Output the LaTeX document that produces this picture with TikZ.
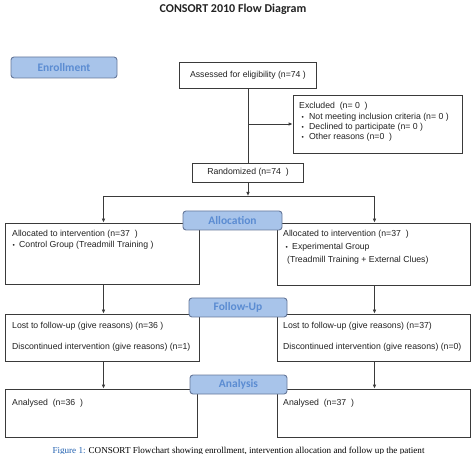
\documentclass[tikz,border=0pt]{standalone}
\usepackage{fontspec}
\setmainfont{Liberation Sans}
\newfontfamily\calfont{Carlito}
\newfontfamily\serfont{Liberation Serif}
\usetikzlibrary{arrows.meta}
\definecolor{lblfill}{HTML}{A8C4EA}
\definecolor{lbldraw}{HTML}{66789A}
\definecolor{lbltext}{HTML}{5B8CD2}
\definecolor{linec}{HTML}{3A3A3A}
\definecolor{txtc}{HTML}{222222}
\definecolor{capblue}{HTML}{1F5FAF}
\begin{document}
\begin{tikzpicture}[x=1pt,y=-1pt,
  flowbox/.style={draw=linec, line width=0.8pt, inner sep=0pt, fill=white, text=txtc, font=\fontsize{8.7}{10}\selectfont},
  stagebox/.style={draw=lbldraw, fill=lblfill, rounded corners=3pt, line width=0.9pt, text=lbltext, inner sep=0pt, font=\calfont\bfseries\fontsize{11.5}{13}\selectfont},
  txt/.style={anchor=base west, inner sep=0pt, text=txtc, font=\fontsize{8.7}{10}\selectfont},
  bul/.style={anchor=base west, inner sep=0pt, text=txtc, font=\fontsize{6.5}{7}\selectfont},
  conn/.style={draw=linec, line width=0.8pt},
  arr/.style={conn, -{Latex[length=4pt,width=3.6pt]}}]
\useasboundingbox (0,0) rectangle (474,454);
\clip (0,0) rectangle (474,454);

\node[anchor=base, inner sep=0pt, text=txtc, font=\calfont\bfseries\fontsize{12}{14}\selectfont] (title) at (233,13) {CONSORT 2010 Flow Diagram};

% boxes
\node[flowbox, minimum width=137pt, minimum height=26pt] (assess) at (248,75) {Assessed for eligibility (n=74 )};
\node[flowbox, minimum width=169pt, minimum height=58pt] (excl) at (377.5,124) {};
\node[flowbox, minimum width=111pt, minimum height=19pt] (rand) at (248,172.5) {Randomized (n=74\ \ )};
\node[flowbox, minimum width=194pt, minimum height=61pt] (allocL) at (102,253.5) {};
\node[flowbox, minimum width=193pt, minimum height=62pt] (allocR) at (373.5,254) {};
\node[flowbox, minimum width=194pt, minimum height=47pt] (fuL) at (102,337.5) {};
\node[flowbox, minimum width=193pt, minimum height=47pt] (fuR) at (373.5,337.5) {};
\node[flowbox, minimum width=192pt, minimum height=48pt] (anL) at (101,413) {};
\node[flowbox, minimum width=193pt, minimum height=48pt] (anR) at (373.5,413) {};

% texts
\node[txt] (exT) at (299,108.7) {Excluded\ \ (n= 0\ \ )};
\node[bul] (exB1) at (301.5,119.3) {\textbullet};
\node[txt] (ex1) at (309,119.3) {Not meeting inclusion criteria (n= 0 )};
\node[bul] (exB2) at (301.5,129.3) {\textbullet};
\node[txt] (ex2) at (309,129.3) {Declined to participate (n= 0 )};
\node[bul] (exB3) at (301.5,139.3) {\textbullet};
\node[txt] (ex3) at (309,139.3) {Other reasons (n=0\ \ )};

\node[txt] (alLT) at (12,236.7) {Allocated to intervention (n=37\ \ )};
\node[bul] (alLB) at (12.5,247.5) {\textbullet};
\node[txt] (alL1) at (19,247.5) {Control Group (Treadmill Training )};

\node[txt] (alRT) at (283,236.7) {Allocated to intervention (n=37\ \ )};
\node[bul] (alRB) at (285.5,249.5) {\textbullet};
\node[txt] (alR1) at (292,249.5) {Experimental Group};
\node[txt] (alR2) at (287,262.5) {(Treadmill Training + External Clues)};

\node[txt] (fuLT) at (12,329) {Lost to follow-up (give reasons) (n=36 )};
\node[txt] (fuL1) at (12,349) {Discontinued intervention (give reasons) (n=1)};
\node[txt] (fuRT) at (283,329) {Lost to follow-up (give reasons) (n=37)};
\node[txt] (fuR1) at (283,349) {Discontinued intervention (give reasons) (n=0)};

\node[txt] (anLT) at (12,405) {Analysed\ \ (n=36\ \ )};
\node[txt] (anRT) at (283,405) {Analysed\ \ (n=37\ \ )};

% connectors
\coordinate (split) at (248,196);
\coordinate (splitL) at (103.5,196);
\coordinate (splitR) at (374.5,196);
\coordinate (exj) at (assess.south |- excl.west);
\draw[conn] (assess.south) -- (rand.north);
\draw[arr] (exj) -- (excl.west);
\draw[arr] (rand.south) -- (split);
\draw[conn] (splitL) -- (splitR);
\draw[arr] (splitL) -- (splitL |- allocL.north);
\draw[arr] (splitR) -- (splitR |- allocR.north);
\draw[arr] (splitL |- allocL.south) -- (splitL |- fuL.north);
\draw[arr] (splitR |- allocR.south) -- (splitR |- fuR.north);
\draw[arr] (splitL |- fuL.south) -- (splitL |- anL.north);
\draw[arr] (splitR |- fuR.south) -- (splitR |- anR.north);

% stage labels
\node[stagebox, minimum width=106pt, minimum height=21pt] (enroll) at (64,67.5) {Enrollment};
\node[stagebox, minimum width=99pt, minimum height=19pt] (alloc) at (232.5,220.5) {Allocation};
\node[stagebox, minimum width=98pt, minimum height=19pt] (follow) at (238,307.5) {Follow-Up};
\node[stagebox, minimum width=97pt, minimum height=19pt] (analysis) at (238.5,384.5) {Analysis};

\node[anchor=base, inner sep=0pt, text=black, font=\serfont\fontsize{9.1}{10}\selectfont] (cap) at (238.5,453) {\textcolor{capblue}{Figure 1:} CONSORT Flowchart showing enrollment, intervention allocation and follow up the patient};
\end{tikzpicture}
\end{document}
